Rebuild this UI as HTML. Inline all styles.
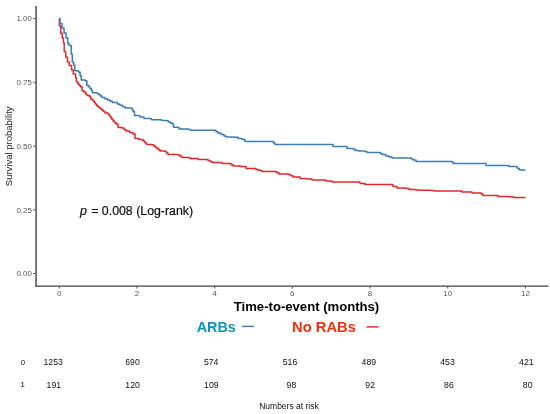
<!DOCTYPE html>
<html><head><meta charset="utf-8"><title>Survival</title>
<style>
html,body{margin:0;padding:0;background:#fff;}
svg{display:block;font-family:"Liberation Sans",Arial,Helvetica,sans-serif;}
.tk{font-size:7.9px;fill:#555;}
.rt{font-size:8.7px;fill:#111;text-anchor:middle;}
</style></head><body>
<svg width="550" height="414" viewBox="0 0 550 414">
<rect width="550" height="414" fill="#fff"/>

<g stroke="#505050" stroke-width="1.5" fill="none">
<path d="M36.1 6V286.8"/>
<path d="M35.4 286.2H548.5" stroke="#404040" stroke-width="1.25"/>
<path d="M33.2 273.5H36" stroke-width="1"/>
<path d="M33.2 209.8H36" stroke-width="1"/>
<path d="M33.2 146.1H36" stroke-width="1"/>
<path d="M33.2 82.3H36" stroke-width="1"/>
<path d="M33.2 18.6H36" stroke-width="1"/>
<path d="M59.3 286V288.5" stroke-width="1"/>
<path d="M137.0 286V288.5" stroke-width="1"/>
<path d="M214.7 286V288.5" stroke-width="1"/>
<path d="M292.3 286V288.5" stroke-width="1"/>
<path d="M370.0 286V288.5" stroke-width="1"/>
<path d="M447.7 286V288.5" stroke-width="1"/>
<path d="M525.4 286V288.5" stroke-width="1"/>
</g>
<text class="tk" x="31.8" y="276.3" text-anchor="end">0.00</text>
<text class="tk" x="31.8" y="212.6" text-anchor="end">0.25</text>
<text class="tk" x="31.8" y="148.9" text-anchor="end">0.50</text>
<text class="tk" x="31.8" y="85.1" text-anchor="end">0.75</text>
<text class="tk" x="31.8" y="21.4" text-anchor="end">1.00</text>
<text class="tk" x="59.3" y="296.4" text-anchor="middle">0</text>
<text class="tk" x="137.0" y="296.4" text-anchor="middle">2</text>
<text class="tk" x="214.7" y="296.4" text-anchor="middle">4</text>
<text class="tk" x="292.3" y="296.4" text-anchor="middle">6</text>
<text class="tk" x="370.0" y="296.4" text-anchor="middle">8</text>
<text class="tk" x="447.7" y="296.4" text-anchor="middle">10</text>
<text class="tk" x="525.4" y="296.4" text-anchor="middle">12</text>
<text transform="translate(12 146.3) rotate(-90)" font-size="9.5" fill="#1a1a1a" text-anchor="middle">Survival probability</text>
<path d="M59.0 18.6H59.4V26.0H60.8V33.2H62.2V38.0H63.4V42.8H64.2V51.6H65.8V57.2H67.5V62.0H69.3V65.6H71.6V70.0H73.2V74.0H75.6V78.0H76.4V82.0H78.0V84.0H79.2V85.4H80.4V86.8H82.0V90.8H83.6V91.8H85.2V92.8H86.0V94.8H88.0V95.8H90.0V96.8H90.8V99.2H92.8V100.8H94.1V102.5H95.5V104.3H96.8V106.0H98.4V107.2H100.0V108.5H101.7V110.0H103.3V111.5H105.0V113.0H108.0V114.0H109.2V115.8H110.5V117.5H111.8V119.2H113.0V121.0H114.5V122.5H116.0V124.0H118.0V127.5H122.0V128.0H124.0V129.5H126.0V131.0H129.5V132.5H133.0V134.0H135.0V138.5H139.0V139.5H143.0V141.0H144.8V142.8H146.5V144.5H152.0V144.8H153.7V146.0H155.3V147.3H157.0V148.5H158.5V149.8H160.0V151.0H165.0V151.6H166.5V153.0H168.0V154.4H178.0V155.0H180.0V156.2H182.0V157.4H190.0V158.4H198.0V159.6H208.0V160.4H210.0V161.4H212.0V162.4H222.0V163.4H229.0V163.6H231.0V164.8H233.0V166.0H240.0V166.6H246.0V168.4H256.0V169.4H259.0V170.4H262.0V171.4H274.0V171.6H276.5V172.8H279.0V174.0H288.0V174.6H290.5V175.8H293.0V177.0H300.0V178.4H306.0V179.0H312.0V180.0H322.0H326.0V181.0H332.0V182.0H357.0H360.0V183.6H365.0V184.6H390.0H393.0V186.4H397.0V188.0H406.0V188.4H409.0V189.4H416.0V190.0H420.0V190.2H430.0V190.4H434.0V191.0H460.0H462.0V192.0H470.0H472.0V193.0H480.0H481.5V194.2H483.0V195.4H496.0H498.0V196.4H510.0V197.0H514.0V197.4H525.4" fill="none" stroke="#e2282b" stroke-width="1.5" stroke-linejoin="round"/>
<path d="M59.5 18.6H60.0V23.5H62.0V28.0H64.0V33.0H66.0V38.0H67.8V43.6H69.0V45.4H71.0V45.6H71.2V54.0H72.2V56.4H72.3V62.5H73.8V65.2H74.8V70.8H78.4V72.0H80.0V75.6H81.2V80.0H85.2V80.8H86.8V85.2H88.4V86.8H90.0V88.8H91.6V90.8H92.4V92.8H96.8V93.2H98.5V94.6H100.3V96.1H102.0V97.5H104.8V98.8H107.6V100.0H110.0V101.2H112.4V102.5H117.2V104.0H119.8V105.3H122.4V106.7H125.0V108.0H132.0V109.5H133.0V111.5H134.5V115.5H139.0V115.8H140.0V117.0H143.0V117.3H144.0V118.5H150.5V118.7H151.5V119.7H161.0V120.0H162.0V120.5H166.5V120.7H168.2V121.8H170.0V123.0H172.5V124.0H173.5V127.2H178.0V127.5H179.0V129.0H188.0V129.2H190.0V130.3H214.0H216.0V131.7H218.0V133.0H221.0V134.5H224.0V136.0H226.0V137.0H234.0V137.2H238.0V138.6H242.0V139.6H245.0V141.4H272.0H273.5V142.9H275.0V144.4H331.0H333.0V146.6H345.0H347.0V148.4H353.0V149.0H355.0V150.4H359.0V151.0H365.0V151.4H367.0V152.4H379.0H380.5V153.4H382.0V154.4H386.0V156.0H389.0V157.0H392.0V158.0H410.0H411.5V159.0H413.0V160.0H416.0V161.4H451.0H452.3V162.5H453.6V163.6H484.0H486.0V165.4H508.0H509.0V166.6H515.0H517.0V168.0H518.0V168.4H519.4V170.0H525.4" fill="none" stroke="#3a7cb3" stroke-width="1.5" stroke-linejoin="round"/>
<text x="80" y="215" font-size="12.35" fill="#111" stroke="#111" stroke-width="0.2"><tspan font-style="italic">p</tspan><tspan dx="0.9"> = 0.008 (Log-rank)</tspan></text>
<text x="233.8" y="311.3" font-size="13.12" font-weight="bold" fill="#000">Time-to-event (months)</text>
<text x="196.7" y="332" font-size="14.4" font-weight="bold" fill="#0a94c0">ARBs</text>
<path d="M242 326.4H254.1" stroke="#377eb8" stroke-width="1.4"/>
<text x="292" y="331.6" font-size="14.75" font-weight="bold" fill="#f4300c">No RABs</text>
<path d="M366.6 326.9H378.5" stroke="#e41a1c" stroke-width="1.4"/>
<text x="22.9" y="364.9" font-size="7.7" fill="#000" text-anchor="middle">0</text>
<text x="22.7" y="387.2" font-size="7.7" fill="#000" text-anchor="middle">1</text>
<text class="rt" x="53.2" y="365.0">1253</text>
<text class="rt" x="53.8" y="387.5">191</text>
<text class="rt" x="132.5" y="365.0">690</text>
<text class="rt" x="132.6" y="387.5">120</text>
<text class="rt" x="211.2" y="365.0">574</text>
<text class="rt" x="211.3" y="387.5">109</text>
<text class="rt" x="290.0" y="365.0">516</text>
<text class="rt" x="291.4" y="387.5">98</text>
<text class="rt" x="368.8" y="365.0">489</text>
<text class="rt" x="370.2" y="387.5">92</text>
<text class="rt" x="447.5" y="365.0">453</text>
<text class="rt" x="448.9" y="387.5">86</text>
<text class="rt" x="526.3" y="365.0">421</text>
<text class="rt" x="527.7" y="387.5">80</text>
<text x="259.2" y="408.6" font-size="8.5" fill="#111">Numbers at risk</text>
</svg></body></html>
